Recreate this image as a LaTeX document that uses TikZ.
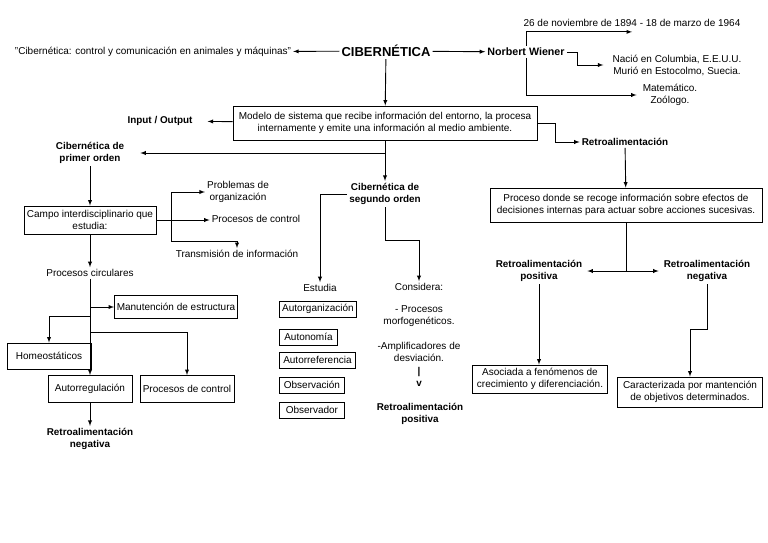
\documentclass[tikz,border=0pt]{standalone}
\usepackage{fontspec}
\setmainfont{Liberation Sans}
\usetikzlibrary{positioning}
\newcommand{\letra}{\fontsize{10}{12}\selectfont}
\newcommand{\letrab}{\fontsize{9.9}{12.5}\selectfont\bfseries}
\begin{document}
\begin{tikzpicture}[x=1pt, y=-1pt]
    % Define styles
    \tikzstyle{texto} = [align=center, inner sep=2pt, font=\letra]
    \tikzstyle{negrita} = [align=center, inner sep=2pt, font=\letrab]
    \tikzstyle{caja} = [draw, line width=0.9pt, align=center, inner sep=2pt, font=\letra]
    \tikzstyle{arrow} = [->, >=latex, line width=0.9pt]
    \useasboundingbox (0,0) rectangle (768,543);

    % Top row
    \node[negrita, font=\fontsize{13}{15}\selectfont\bfseries] (ciber) at (386,51) {CIBERNÉTICA};
    \node[texto] (cita) at (153,52) {"Cibernética: control y comunicación en animales y máquinas"};
    \node[negrita, font=\fontsize{10.7}{13}\selectfont\bfseries] (wiener) at (526,52) {Norbert Wiener};
    \node[texto] (fecha) at (632,23) {26 de noviembre de 1894 - 18 de marzo de 1964};
    \node[texto, inner xsep=9pt] (nacio) at (677,65) {Nació en Columbia, E.E.U.U.\\Murió en Estocolmo, Suecia.};
    \node[texto, inner xsep=6pt] (matem) at (670,95) {Matemático.\\Zoólogo.};

    % Model box and first split
    \node[caja, minimum width=304, minimum height=34] (modelo) at (385,123) {Modelo de sistema que recibe información del entorno, la procesa\\internamente y emite una información al medio ambiente.};
    \node[negrita, inner xsep=15pt] (io) at (160,121) {Input / Output};
    \node[negrita] (retro) at (625,142) {Retroalimentación};
    \node[negrita, inner xsep=16pt] (primer) at (90,153) {Cibernética de\\primer orden};
    \node[negrita] (segundo) at (385,194) {Cibernética de\\segundo orden};

    % First order branch
    \node[caja, minimum width=132, minimum height=28] (campo) at (90,220) {Campo interdisciplinario que\\estudia:};
    \node[texto] (problemas) at (238,192) {Problemas de\\organización};
    \node[texto] (pcontrolA) at (256,219) {Procesos de control};
    \node[texto] (transmision) at (237,254) {Transmisión de información};
    \node[texto] (circulares) at (90,273) {Procesos circulares};
    \node[caja, minimum width=123, minimum height=23] (manutencion) at (176,307) {Manutención de estructura};
    \node[caja, minimum width=84, minimum height=26] (homeo) at (49,356) {Homeostáticos};
    \node[caja, minimum width=84, minimum height=27] (autorreg) at (90,389) {Autorregulación};
    \node[caja, minimum width=94, minimum height=27] (pcontrolB) at (187,389) {Procesos de control};
    \node[negrita] (rnegA) at (90,439) {Retroalimentación\\negativa};

    % Second order branch
    \node[texto] (estudia) at (320,288) {Estudia};
    \node[caja, anchor=west, minimum width=77, minimum height=16] (autorg) at (279,309) {Autorganización};
    \node[caja, anchor=west, minimum width=58, minimum height=16] (autonomia) at (279,337) {Autonomía};
    \node[caja, anchor=west, minimum width=76, minimum height=16] (autorref) at (279,360) {Autorreferencia};
    \node[caja, anchor=west, minimum width=65, minimum height=16] (observacion) at (279,385) {Observación};
    \node[caja, anchor=west, minimum width=65, minimum height=16] (observador) at (279,410) {Observador};
    \node[texto] (considera) at (419,287) {Considera:};
    \node[texto] (morfo) at (419,316) {- Procesos\\morfogenéticos.};
    \node[texto] (amplif) at (419,352) {-Amplificadores de\\desviación.};
    \node[negrita] (flecha) at (419,377) {|\\v};
    \node[negrita] (rposA) at (420,414) {Retroalimentación\\positiva};

    % Feedback branch
    \node[caja, minimum width=272, minimum height=34] (proceso) at (626,205) {Proceso donde se recoge información sobre efectos de\\decisiones internas para actuar sobre acciones sucesivas.};
    \node[negrita, inner xsep=5pt] (rposB) at (539,271) {Retroalimentación\\positiva};
    \node[negrita, inner xsep=5pt] (rnegB) at (707,271) {Retroalimentación\\negativa};
    \node[caja, minimum width=135, minimum height=28] (asociada) at (540,379) {Asociada a fenómenos de\\crecimiento y diferenciación.};
    \node[caja, minimum width=145, minimum height=30] (caracterizada) at (690,392) {Caracterizada por mantención\\de objetivos determinados.};

    % Trunk points
    \coordinate (t1) at (90,307);
    \coordinate (t2) at (90,316);
    \coordinate (t3) at (90,332);

    % Arrows from the top row
    \draw[arrow] (ciber) -- (cita);
    \draw[arrow] (ciber) -- (wiener);
    \draw[arrow] (wiener.north) |- ([yshift=-3pt]fecha.south);
    \draw[arrow] (wiener.east) -- ++(11,0) |- (nacio.west);
    \draw[arrow] (wiener.south) |- (matem.west);
    \draw[arrow] (ciber) -- (modelo);

    % Arrows from the model box
    \draw[arrow] (modelo) -- (io);
    \draw[arrow] (modelo.east) -- ++(18,0) |- (retro.west);
    \draw[arrow] (modelo.south) |- (primer.east);
    \draw[arrow] (modelo) -- (segundo);

    % Arrows in the first order branch
    \draw[arrow] (primer) -- (campo);
    \draw[arrow] (campo.east) -- (campo.east -| pcontrolA.west);
    \draw[arrow] (campo.east) -- ++(15,0) |- (problemas.west);
    \draw[arrow] (campo.east) -- ++(15,0) |- ([yshift=7pt]transmision.north) -- (transmision.north);
    \draw[arrow] (campo) -- (circulares);
    \draw[arrow] (circulares) -- (autorreg);
    \draw[arrow] (t1) -- (manutencion);
    \draw[arrow] (t2) -| (homeo.north);
    \draw[arrow] (t3) -| (pcontrolB.north);
    \draw[arrow] (autorreg) -- (rnegA);

    % Arrows in the second order branch
    \draw[arrow] (segundo.west) -| (estudia.north);
    \draw[arrow] (segundo.south) -- ++(0,33) -| (considera.north);

    % Arrows in the feedback branch
    \draw[arrow] (retro) -- (proceso);
    \draw[arrow] (proceso.south) |- (rposB.east);
    \draw[arrow] (proceso.south) |- (rnegB.west);
    \draw[arrow] (rposB.south) -- (rposB.south |- asociada.north);
    \draw[arrow] (rnegB.south) -- ++(0,45) -| (caracterizada.north);

\end{tikzpicture}
\end{document}
